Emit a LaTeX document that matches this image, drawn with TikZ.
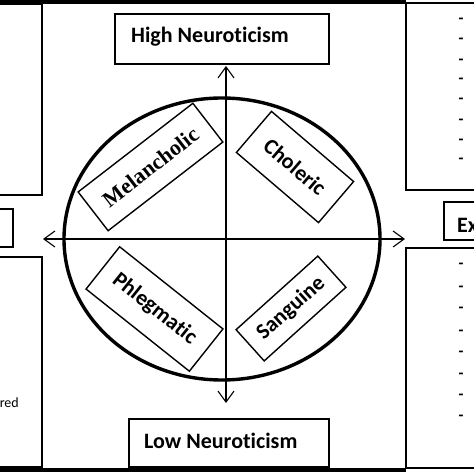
\documentclass[tikz,border=0pt]{standalone}
\usepackage{fontspec}
\setmainfont{Carlito}[Ligatures=CommonOff]
\newfontfamily\serifbold{Liberation Serif}
\usetikzlibrary{arrows.meta}
\tikzset{
  frame/.style={line width=1.5pt},
  thickframe/.style={line width=3.6pt},
  lab/.style={font=\fontsize{22}{24}\selectfont\bfseries},
  tbox/.style={draw, line width=1.4pt, inner sep=0pt, lab},
  axis/.style={line width=1.1pt, {Straight Barb[length=11pt,width=16pt,line width=1.1pt]}-{Straight Barb[length=11pt,width=16pt,line width=1.1pt]}},
  dashmark/.style={font=\fontsize{16}{16}\selectfont\bfseries, inner sep=0pt},
}
\begin{document}
\begin{tikzpicture}[x=1pt,y=1pt]
\useasboundingbox (0,0) rectangle (474,474);
\clip (0,0) rectangle (474,474);
\fill[white] (0,0) rectangle (474,474);
% outer thick lines
\draw[thickframe] (0,472) -- (406,472);
\draw[thickframe] (0,4) -- (406,4);
% side boxes
\draw[frame] (-5,279) rectangle (42,470);
\draw[frame] (-5,227) rectangle (13,265);
\draw[frame] (-5,7) rectangle (42,217);
\node[anchor=base east, inner sep=0pt, font=\fontsize{14}{15}\selectfont] (red) at (19,66) {red};
\draw[frame] (406,284) rectangle (480,471);
\draw[frame] (444,234) rectangle (480,272);
\node[anchor=west, inner sep=0pt, lab] (ex) at (457,249) {Ex};
\draw[frame] (406,6) rectangle (480,226);
\foreach \i/\yy in {u1/453,u2/433,u3/412,u4/393,u5/373,u6/352,u7/332,u8/313,l1/208,l2/185,l3/164,l4/141,l5/120,l6/98,l7/77,l8/56}
  \node[dashmark] (d\i) at (461,\yy) {-};
% top / bottom boxes
\node[draw, line width=1.4pt, minimum width=214pt, minimum height=50pt, inner sep=0pt] (high) at (222,435) {};
\node[anchor=west, inner sep=0pt, lab] (hightxt) at (131,437) {High Neurot\kern0pt icism};
\node[draw, line width=1.4pt, minimum width=200pt, minimum height=48pt, inner sep=0pt] (low) at (229,31) {};
\node[anchor=west, inner sep=0pt, lab] (lowtxt) at (144,33) {Low Neurot\kern0pt icism};
% ellipse
\draw[line width=3.4pt] (222,235) ellipse [x radius=158, y radius=141];
% axes
\coordinate (vtop) at (226,408);
\coordinate (vbot) at (226,71);
\coordinate (hleft) at (43,235);
\coordinate (hright) at (405,235);
\draw[axis] (vbot) -- (vtop);
\draw[axis] (hleft) -- (hright);
% temperament boxes
\node[tbox, minimum width=145pt, minimum height=49pt, rotate=37.7, font=\fontsize{22}{24}\selectfont\serifbold\bfseries] (mel) at (150.5,307) {Melancholic};
\node[tbox, minimum width=108pt, minimum height=54pt, rotate=-40.5] (chol) at (295,307) {Choleric};
\node[tbox, minimum width=132pt, minimum height=54pt, rotate=-38.5] (phl) at (154.5,165) {Phlegmatic};
\node[tbox, minimum width=110pt, minimum height=42pt, rotate=42] (san) at (291,165.5) {Sanguine};
\end{tikzpicture}
\end{document}
